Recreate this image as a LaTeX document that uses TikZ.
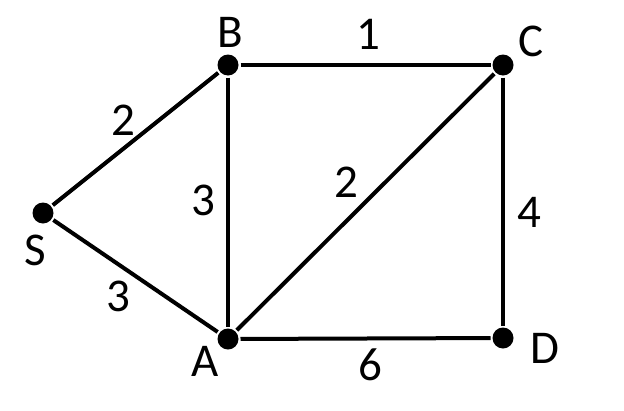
\documentclass[tikz,border=0pt]{standalone}
\usepackage{fontspec}
\setmainfont{Carlito}
\begin{document}
\begin{tikzpicture}[x=1pt, y=-1pt, line width=4pt,
  every node/.style={font=\fontsize{47}{50}\selectfont, inner sep=0pt}]
\useasboundingbox (0,0) rectangle (624,410);
\node[circle, minimum size=21pt, fill] (vS) at (43,213){};
\node[circle, minimum size=21pt, fill] (vB) at (228,65){};
\node[circle, minimum size=21pt, fill] (vC) at (503,65){};
\node[circle, minimum size=21pt, fill] (vA) at (228,339){};
\node[circle, minimum size=21pt, fill] (vD) at (503,338){};

\node (lS) at (35,250){S};
\node (lB) at (230,32){B};
\node (lC) at (531,41){C};
\node (lA) at (205,361){A};
\node (lD) at (545,348){D};

\draw[](vS) -- (vB);
\draw[](vS) -- (vA);
\draw[](vB) -- (vC);
\draw[](vB) -- (vA);
\draw[](vA) -- (vC);
\draw[](vC) -- (vD);
\draw[](vA) -- (vD);

\node (wSB) at (123,120){2};
\node (wSA) at (118,296){3};
\node (wBC) at (368,34){1};
\node (wBA) at (203,200){3};
\node (wAC) at (346,182){2};
\node (wCD) at (529,212){4};
\node (wAD) at (370,365){6};

\end{tikzpicture}
\end{document}
